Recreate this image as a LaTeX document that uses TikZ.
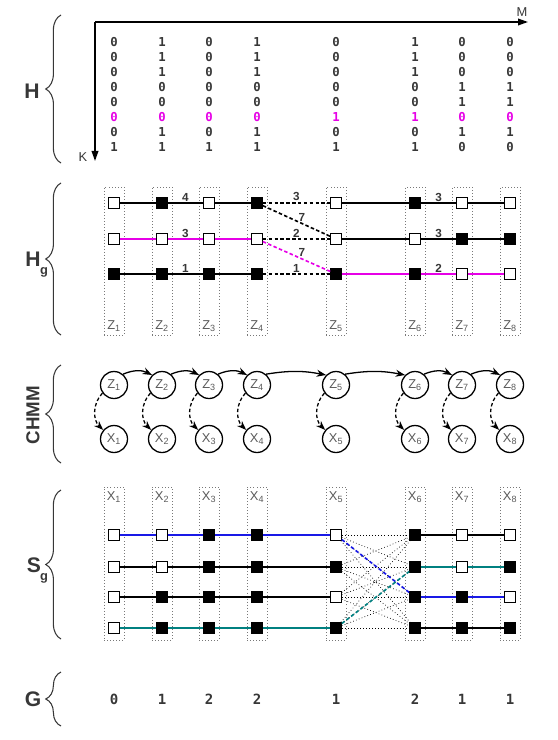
\documentclass[tikz,border=0pt]{standalone}
\usepackage{fontspec}
\setmainfont{Liberation Sans}
\setmonofont{DejaVu Sans Mono}
\usetikzlibrary{arrows.meta,decorations.pathreplacing}
\definecolor{hmag}{RGB}{230,0,230}
\definecolor{sblue}{RGB}{25,25,230}
\definecolor{steal}{RGB}{0,128,128}
\definecolor{ink}{RGB}{55,55,55}
\definecolor{labgray}{RGB}{90,90,90}
\definecolor{boxgray}{RGB}{120,120,120}

\begin{document}
\begin{tikzpicture}[x=0.03cm,y=-0.03cm,>=Stealth,
  sqe/.style={draw,line width=1.1pt,fill=white,minimum size=0.31cm,inner sep=0pt},
  sqf/.style={sqe,fill=black},
  colbox/.style={draw=boxgray,dotted,line width=0.6pt,minimum width=0.6cm,inner sep=0pt},
  boxlab/.style={text=labgray,font=\fontsize{11}{11}\selectfont,inner sep=0pt},
  var/.style={circle,draw,line width=1.1pt,minimum size=0.81cm,inner sep=0pt,text=labgray,font=\fontsize{11}{11}\selectfont},
  bitcol/.style={align=center,inner sep=0pt,text=ink,font=\ttfamily\bfseries\fontsize{10.5}{12.75}\selectfont},
  gdig/.style={inner sep=0pt,text=ink,font=\ttfamily\bfseries\fontsize{12}{12}\selectfont},
  wlab/.style={above,inner sep=1pt,text=ink,font=\bfseries\fontsize{10}{10}\selectfont},
  sect/.style={inner sep=0pt,text=ink,font=\bfseries\fontsize{18}{18}\selectfont},
  subg/.style={inner sep=0pt,text=ink,font=\bfseries\fontsize{11}{11}\selectfont},
  axlab/.style={inner sep=0pt,text=ink,font=\fontsize{11}{11}\selectfont},
  axis/.style={line width=1.2pt,-{Triangle[length=3mm,width=2mm]}},
  brc/.style={decorate,decoration={brace,amplitude=13pt},line width=0.9pt,draw=ink},
  link/.style={line width=1.1pt},
  hop/.style={line width=1.4pt,dash pattern=on 3pt off 2pt},
  mesh/.style={line width=0.6pt,dotted},
  trans/.style={line width=1.1pt,->},
  emit/.style={line width=1.1pt,dash pattern=on 3pt off 2pt,->}]
\useasboundingbox (0,0) rectangle (557,740);

% section braces and names
\draw[brc] (61,163) -- (61,15);
\draw[brc] (61,335) -- (61,183);
\draw[brc] (61,463) -- (61,365);
\draw[brc] (61,639) -- (61,490);
\draw[brc] (61,726) -- (61,672);
\node[sect] (lh) at (32,91) {H};
\node[sect] (lhg) at (33,259) {H};
\node[subg] (lhgs) at (44,272) {g};
\node[sect,rotate=90,font=\bfseries\fontsize{16}{16}\selectfont] (lchmm) at (33,415) {CHMM};
\node[sect] (lsg) at (34,565) {S};
\node[subg] (lsgs) at (44,578) {g};
\node[sect] (lg) at (33,699) {G};

% H: the K x M bit matrix
\coordinate (org) at (95,22);
\coordinate (mend) at (528,22);
\coordinate (kend) at (95,161);
\draw[axis] (org) -- (mend);
\draw[axis] (org) -- (kend);
\node[axlab] (mlab) at (522,12) {M};
\node[axlab] (klab) at (83,157) {K};
\foreach \x/\i/\hi/\mg/\lo in {114/1/{0\\0\\0\\0\\0}/0/{0\\1},162/2/{1\\1\\1\\0\\0}/0/{1\\1},
    209/3/{0\\0\\0\\0\\0}/0/{0\\1},257/4/{1\\1\\1\\0\\0}/0/{1\\1},336/5/{0\\0\\0\\0\\0}/1/{0\\1},
    415/6/{1\\1\\1\\0\\0}/1/{0\\1},462/7/{0\\0\\0\\1\\1}/0/{1\\0},510/8/{0\\0\\0\\1\\1}/0/{1\\0}}
  \node[bitcol] (k\i) at (\x,94.5) {\hi\\\textcolor{hmag}{\mg}\\\lo};

% Hg
\foreach \x/\i/\a/\b/\c in {114/1/e/e/f,162/2/f/e/f,209/3/e/e/f,257/4/f/e/f,336/5/e/e/f,415/6/f/e/f,462/7/e/f/e,510/8/e/f/e}{
  \node[colbox,minimum height=4.44cm] (hb\i) at (\x,261) {};
  \node[boxlab] (hz\i) at (\x,326) {Z\textsubscript{\i}};
  \node[sq\a] (h1\i) at (\x,203) {};
  \node[sq\b] (h2\i) at (\x,239) {};
  \node[sq\c] (h3\i) at (\x,274) {};
}
\foreach \a/\b in {1/2,2/3,3/4,5/6,6/7,7/8}
  \draw[link] (h1\a) -- (h1\b);
\foreach \a/\b in {1/2,2/3,3/4}{
  \draw[link,hmag] (h2\a) -- (h2\b);
  \draw[link] (h3\a) -- (h3\b);
}
\foreach \a/\b in {5/6,6/7,7/8}{
  \draw[link] (h2\a) -- (h2\b);
  \draw[link,hmag] (h3\a) -- (h3\b);
}
\draw[hop] (h14) -- node[wlab] {3} (h15);
\draw[hop] (h24) -- node[wlab] {2} (h25);
\draw[hop] (h34) -- node[wlab] {1} (h35);
\draw[hop] (h14) -- node[wlab,pos=0.58] {7} (h25);
\draw[hop,hmag] (h24) -- node[wlab,pos=0.58] {7} (h35);
\path (h12) -- node[wlab] {4} (h13);
\path (h22) -- node[wlab] {3} (h23);
\path (h32) -- node[wlab] {1} (h33);
\path (h16) -- node[wlab] {3} (h17);
\path (h26) -- node[wlab] {3} (h27);
\path (h36) -- node[wlab] {2} (h37);

% CHMM
\foreach \x/\i in {114/1,162/2,209/3,257/4,336/5,415/6,462/7,510/8}{
  \node[var] (z\i) at (\x,385) {Z\textsubscript{\i}};
  \node[var] (x\i) at (\x,439) {X\textsubscript{\i}};
  \draw[emit] (z\i.215) to[bend right=45] (x\i.140);
}
\foreach \a/\b/\bend in {1/2/25,2/3/25,3/4/25,4/5/10,5/6/10,6/7/25,7/8/25}
  \draw[trans] (z\a.50) to[bend left=\bend] (z\b.135);

% Sg
\foreach \x/\i/\a/\b/\c/\d in {114/1/e/e/e/e,162/2/e/e/f/f,209/3/f/f/f/f,257/4/f/f/f/f,336/5/e/f/e/f,415/6/f/f/f/f,462/7/e/e/f/f,510/8/e/f/e/f}{
  \node[colbox,minimum height=4.59cm] (sb\i) at (\x,563.5) {};
  \node[boxlab] (sx\i) at (\x,497) {X\textsubscript{\i}};
  \node[sq\a] (s1\i) at (\x,535) {};
  \node[sq\b] (s2\i) at (\x,567) {};
  \node[sq\c] (s3\i) at (\x,597) {};
  \node[sq\d] (s4\i) at (\x,628) {};
}
\foreach \a/\b in {1/2,2/3,3/4,4/5}{
  \draw[link,sblue] (s1\a) -- (s1\b);
  \draw[link] (s2\a) -- (s2\b);
  \draw[link] (s3\a) -- (s3\b);
  \draw[link,steal] (s4\a) -- (s4\b);
}
\foreach \a/\b in {6/7,7/8}{
  \draw[link] (s1\a) -- (s1\b);
  \draw[link,steal] (s2\a) -- (s2\b);
  \draw[link,sblue] (s3\a) -- (s3\b);
  \draw[link] (s4\a) -- (s4\b);
}
\foreach \a in {1,...,4}
  \foreach \b in {1,...,4}
    \draw[mesh] (s\a5) -- (s\b6);
\draw[hop,sblue] (s15) -- (s36);
\draw[hop,steal] (s45) -- (s26);

% G
\foreach \x/\v [count=\i] in {114/0,162/1,209/2,257/2,336/1,415/2,462/1,510/1}
  \node[gdig] (g\i) at (\x,699) {\v};
\end{tikzpicture}
\end{document}
